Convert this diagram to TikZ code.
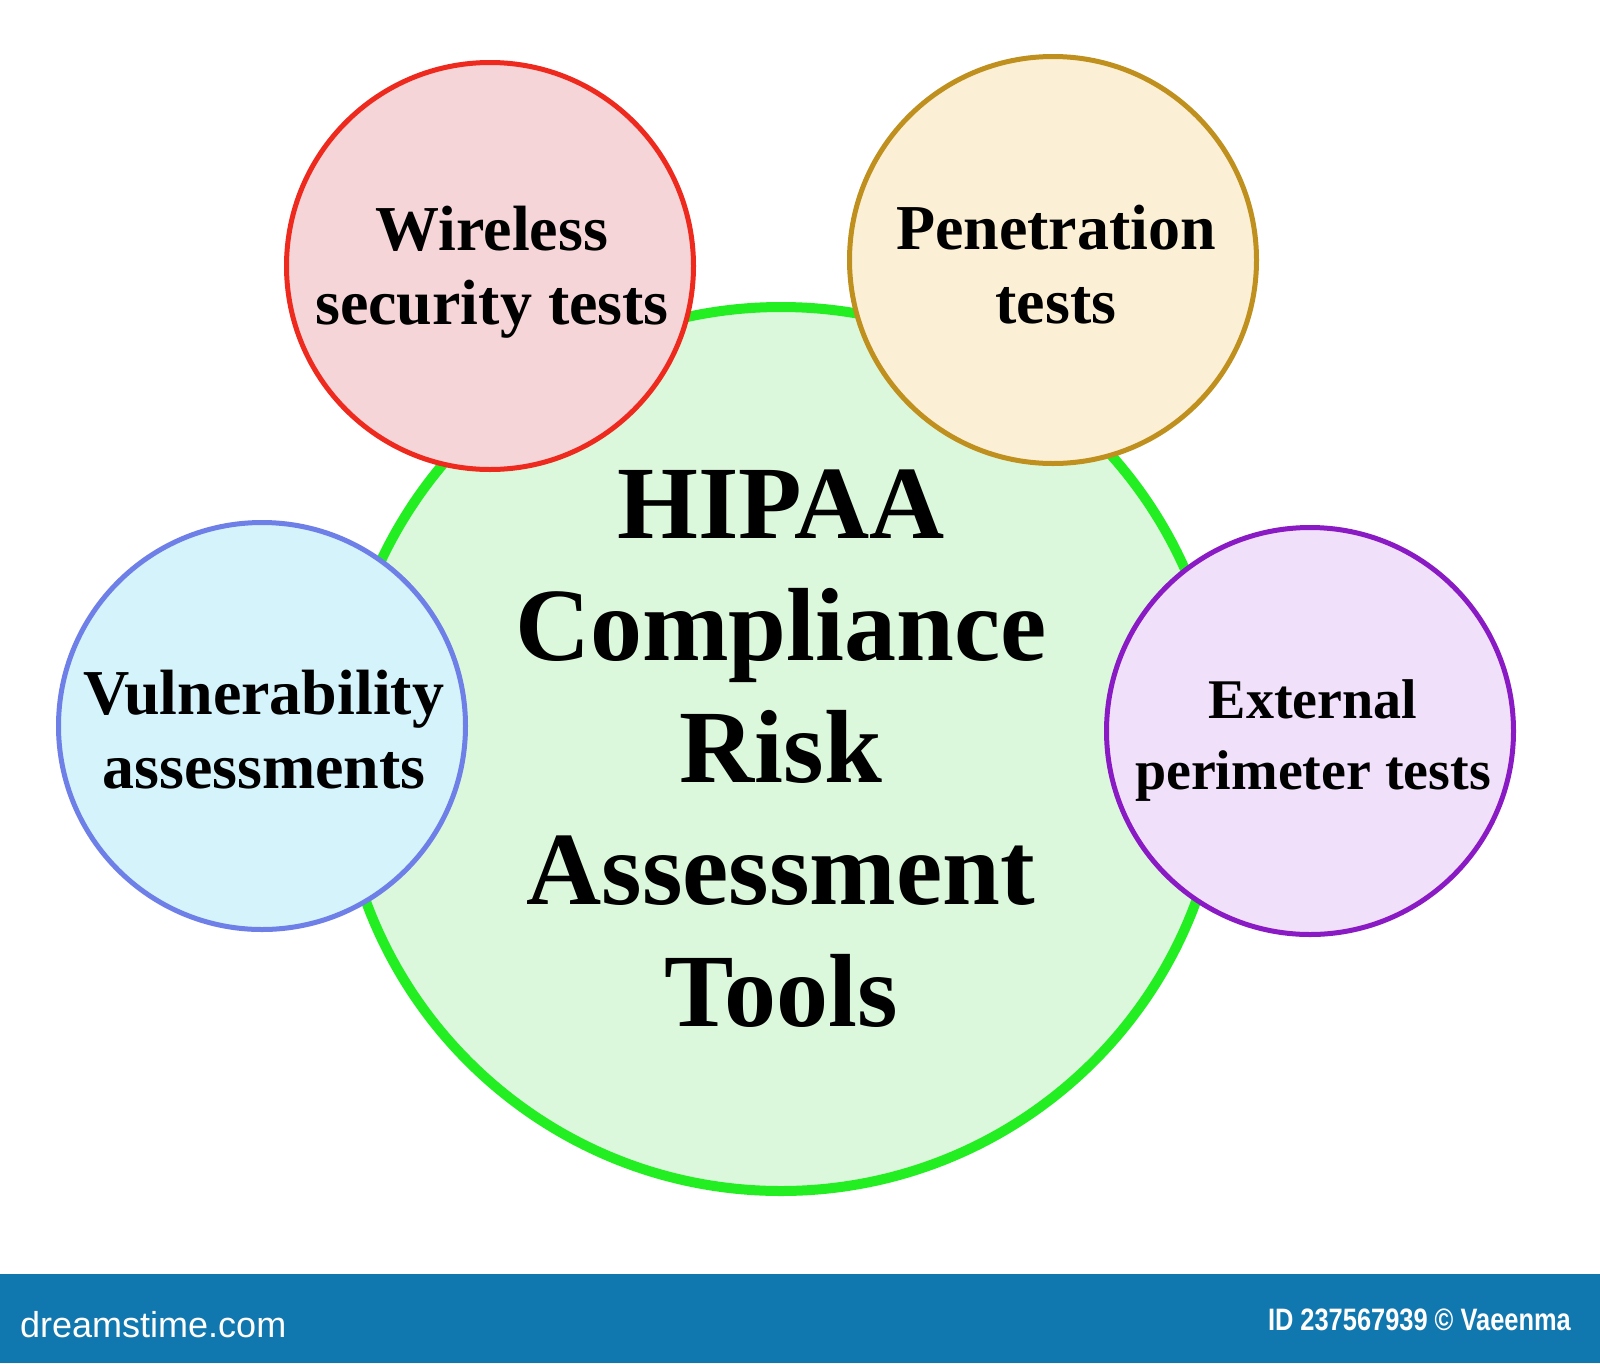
\documentclass[tikz,border=0pt]{standalone}
\usepackage{fontspec}
\setmainfont{Liberation Serif}
\newfontfamily\barfont{Liberation Sans}
\newfontfamily\idfont[FakeStretch=0.82]{Liberation Sans}
\definecolor{bigfill}{HTML}{DCF8DC}
\definecolor{bigline}{HTML}{22EE22}
\definecolor{wfill}{HTML}{F5D5D8}
\definecolor{wline}{HTML}{EE2A1E}
\definecolor{pfill}{HTML}{FBEFD5}
\definecolor{pline}{HTML}{C0901E}
\definecolor{vfill}{HTML}{D5F3FA}
\definecolor{vline}{HTML}{6E7FE8}
\definecolor{efill}{HTML}{F0E0FA}
\definecolor{eline}{HTML}{8A1BC4}
\definecolor{barblue}{HTML}{1177AF}
\tikzset{
  smallcirc/.style={circle, minimum size=407pt, inner sep=0pt, line width=5pt},
  smalltext/.style={inner sep=0pt, align=center, font=\fontsize{64}{74}\selectfont\bfseries},
  bigcirc/.style={circle, minimum size=884pt, inner sep=0pt, line width=10pt, align=center,
    font=\fontsize{104}{122}\selectfont\bfseries},
  bartext/.style={text=white, inner sep=0pt}
}
\begin{document}
\begin{tikzpicture}[x=1pt,y=-1pt]
\useasboundingbox (0,0) rectangle (1600,1363);
\fill[white] (0,0) rectangle (1600,1363);
\node[bigcirc, draw=bigline, fill=bigfill] (main) at (781,749)
  {HIPAA\\Compliance\\Risk\\Assessment\\Tools};
\node[smallcirc, draw=wline, fill=wfill] (wire) at (490,266) {};
\node[smalltext] (wiret) at (492,272) {Wireless\\security tests};
\node[smallcirc, draw=pline, fill=pfill] (pen) at (1053,260) {};
\node[smalltext] (pent) at (1056,265) {Penetration\\tests};
\node[smallcirc, draw=vline, fill=vfill] (vul) at (262,726) {};
\node[smalltext] (vult) at (264,730) {Vulnerability\\assessments};
\node[smallcirc, draw=eline, fill=efill] (ext) at (1310,731) {};
\node[smalltext, font=\fontsize{56}{71}\selectfont\bfseries] (extt) at (1313,741) {External\\perimeter tests};
\fill[barblue] (0,1274) rectangle (1600,1363);
\node[bartext, anchor=base west, font=\fontsize{36}{40}\selectfont\barfont] (logo) at (20,1337) {dreamstime.com};
\node[bartext, anchor=base east, font=\fontsize{31}{34}\selectfont\idfont\bfseries] (id) at (1571,1330) {ID 237567939 © Vaeenma};
\end{tikzpicture}
\end{document}
